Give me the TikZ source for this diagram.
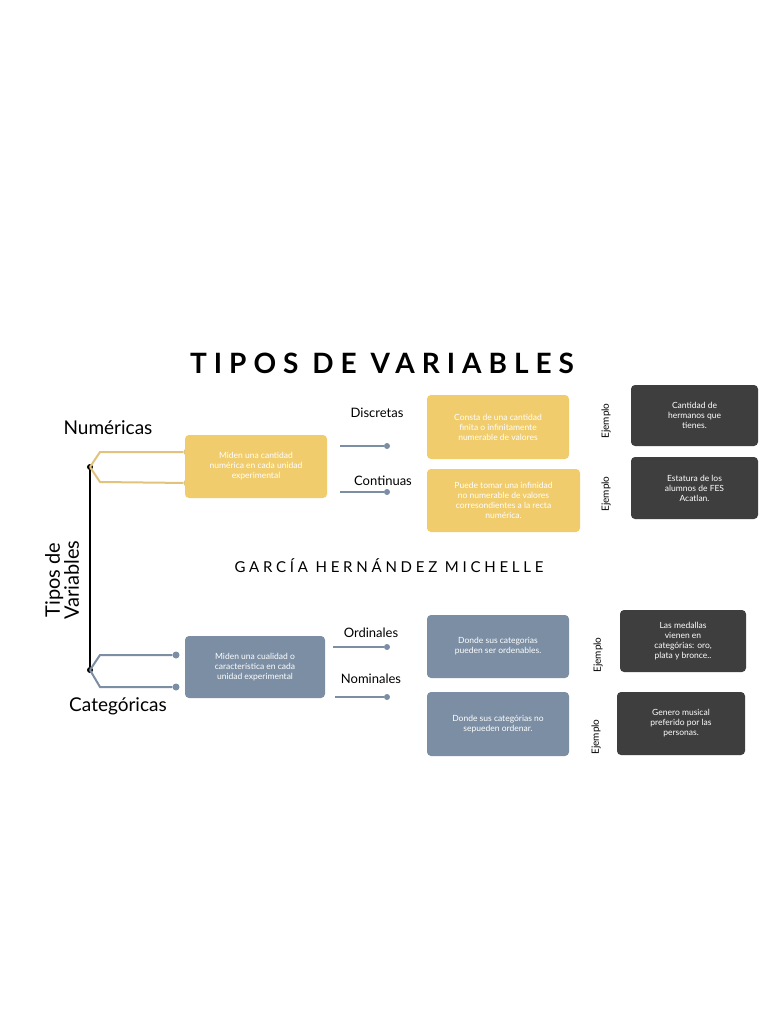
\documentclass[tikz,border=0pt]{standalone}
\usepackage{fontspec}
\setmainfont{Lato}
\newfontfamily\spaced[LetterSpace=25]{Lato}
\newfontfamily\spacedb[LetterSpace=25]{Lato Bold}
\definecolor{gold}{HTML}{F0CC6C}
\definecolor{goldl}{HTML}{E2C37E}
\definecolor{slate}{HTML}{7B8EA4}
\definecolor{dark}{HTML}{3E3E3E}
\begin{document}
\begin{tikzpicture}[x=1pt,y=-1pt,
  box/.style={rounded corners=4pt,text=white,align=center,font=\fontsize{8.5}{10}\selectfont,inner sep=0pt},
  lbl/.style={font=\fontsize{13}{15}\selectfont},
  ej/.style={rotate=90,font=\fontsize{10}{12}\selectfont},
  dot/.style={circle,fill,inner sep=0pt,minimum size=7pt}]
\useasboundingbox (0,0) rectangle (768,1024);
\fill[white] (0,0) rectangle (768,1024);
\node[font=\fontsize{28}{30}\selectfont\spacedb] (title) at (382,363) {TIPOS DE VARIABLES};
\node[font=\fontsize{19}{22}\selectfont] (num) at (108,428) {Numéricas};
\node[font=\fontsize{19}{22}\selectfont] (cat) at (118,706) {Categóricas};
\node[font=\fontsize{20}{22}\selectfont,rotate=90,align=center] (tv) at (62,580) {Tipos de\\[-3pt]Variables};
\node[font=\fontsize{15}{17}\selectfont\spaced] (name) at (389,566) {GARCÍA HERNÁNDEZ MICHELLE};
% spine
\node[dot,black,minimum size=6pt] (t) at (90,467) {};
\node[dot,black,minimum size=6pt] (b) at (90,670) {};
\draw[line width=2pt] (t) -- (b);
% numeric branches
\node[dot,goldl] (n1) at (187,452) {};
\node[dot,goldl] (n2) at (187,483) {};
\draw[goldl,line width=2pt] (t.center) -- (100,452) -- (n1);
\draw[goldl,line width=2pt] (t.center) -- (100,482) -- (n2);
\node[box,fill=gold,minimum width=142pt,minimum height=63pt] (nb) at (256,466.5) {Miden una cantidad\\numérica en cada unidad\\experimental};
% categorical branches
\node[dot,slate] (c1) at (176,655) {};
\node[dot,slate] (c2) at (176,687) {};
\draw[slate,line width=2pt] (b.center) -- (100,655) -- (c1);
\draw[slate,line width=2pt] (b.center) -- (100,687) -- (c2);
\node[box,fill=slate,minimum width=140pt,minimum height=62pt] (cb) at (255,667) {Miden una cualidad o\\característica en cada\\unidad experimental};
% sub labels
\node[lbl] (dis) at (377,413) {Discretas};
\node[lbl] (con) at (383,481) {Continuas};
\node[lbl] (ord) at (371,633) {Ordinales};
\node[lbl] (nom) at (371,679) {Nominales};
\coordinate (dl) at (340,446); \node[dot,slate,minimum size=6pt] (dd) at (387,446) {};
\coordinate (cl) at (340,492); \node[dot,slate,minimum size=6pt] (cd) at (387,492) {};
\coordinate (ol) at (333,647); \node[dot,slate,minimum size=6pt] (od) at (387,647) {};
\coordinate (nl) at (335,697); \node[dot,slate,minimum size=6pt] (nd) at (387,697) {};
\foreach \a/\b in {dl/dd,cl/cd,ol/od,nl/nd} \draw[slate,line width=1.8pt] (\a) -- (\b);
% definition boxes
\node[box,fill=gold,minimum width=142pt,minimum height=64pt] (db) at (498,427) {Consta de una cantidad\\finita o infinitamente\\numerable de valores};
\node[box,fill=gold,minimum width=153pt,minimum height=63pt] (cob) at (503.5,500.5) {Puede tomar una infinidad\\no numerable de valores\\corresondientes a la recta\\numérica.};
\node[box,fill=slate,minimum width=142pt,minimum height=63pt] (ob) at (498,646.5) {Donde sus categorias\\pueden ser ordenables.};
\node[box,fill=slate,minimum width=142pt,minimum height=64pt] (nob) at (498,724) {Donde sus categórias no\\sepueden ordenar.};
% ejemplo
\node[ej] (e1) at (606,421) {Ejemplo};
\node[ej] (e2) at (606,494) {Ejemplo};
\node[ej] (e3) at (598,655) {Ejemplo};
\node[ej] (e4) at (596,737) {Ejemplo};
% examples
\node[box,fill=dark,minimum width=127pt,minimum height=61pt] (x1) at (694.5,415.5) {Cantidad de\\hermanos que\\tienes.};
\node[box,fill=dark,minimum width=127pt,minimum height=62pt] (x2) at (694.5,488) {Estatura de los\\alumnos de FES\\Acatlan.};
\node[box,fill=dark,minimum width=126pt,minimum height=62pt] (x3) at (683,641) {Las medallas\\vienen en\\categórias: oro,\\plata y bronce..};
\node[box,fill=dark,minimum width=128pt,minimum height=63pt] (x4) at (681,723.5) {Genero musical\\preferido por las\\personas.};
\end{tikzpicture}
\end{document}
